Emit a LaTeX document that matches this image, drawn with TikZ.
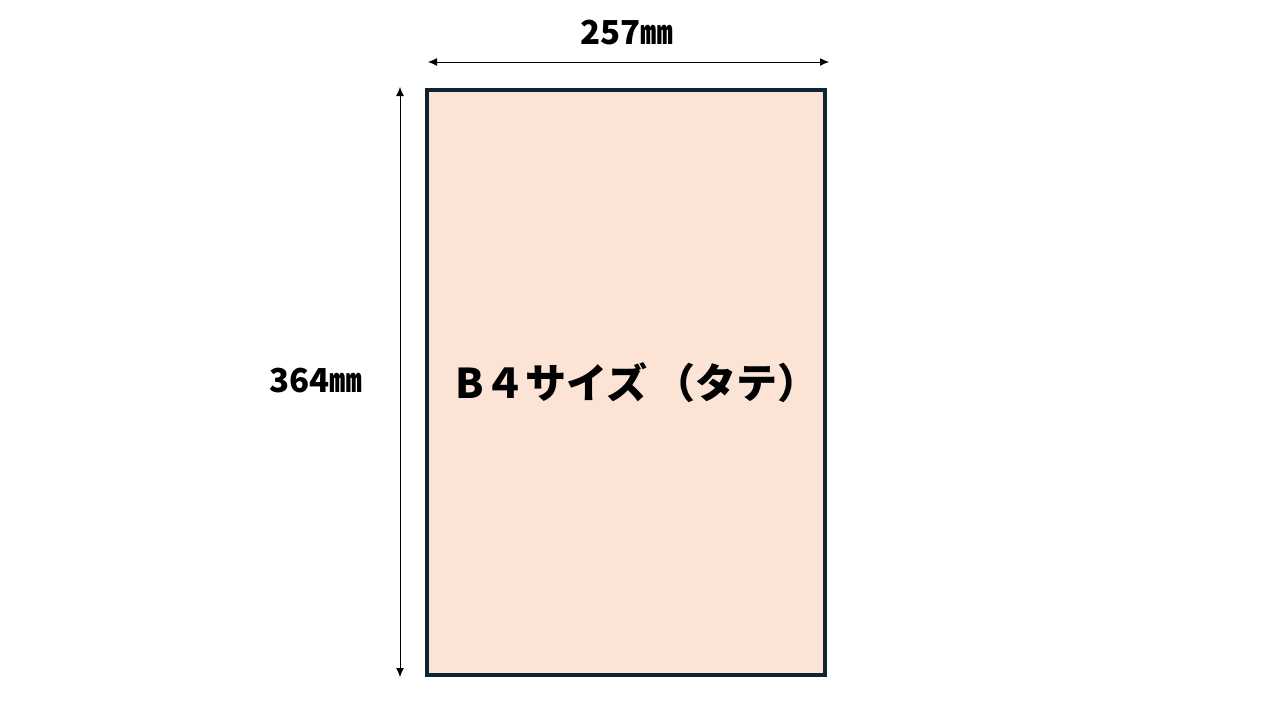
\documentclass[tikz,border=0pt]{standalone}
\usepackage{fontspec}
\usepackage{xcolor}
\usepackage{tikz}
\usetikzlibrary{arrows.meta}
\newfontfamily\jpfont{Noto Sans CJK JP}
\definecolor{sheetfill}{HTML}{FBE3D6}
\definecolor{sheetedge}{HTML}{0E2433}
\tikzset{
  sheet/.style={draw=sheetedge, fill=sheetfill, line width=4pt, minimum width=398pt, minimum height=585pt, inner sep=0pt},
  dimline/.style={line width=1pt, {Latex[length=9pt,width=8pt]}-{Latex[length=9pt,width=8pt]}},
  dimlabel/.style={font=\jpfont\bfseries\fontsize{33}{36}\selectfont, inner sep=0pt}
}
\begin{document}
\begin{tikzpicture}[x=1pt,y=-1pt]
	\useasboundingbox (0,0) rectangle (1280,720);
	% the sheet
	\node[sheet] (paper) at (626,382.5){};
	\node[font=\jpfont\bfseries\fontsize{41}{45}\selectfont, inner sep=0pt] (name) at (637,383){B４サイズ\,（タテ）};
	
	% width
	\coordinate (wL) at (428,62);
	\coordinate (wR) at (829,62);
	\draw[dimline] (wL)--(wR);
	\node[dimlabel] (wlab) at (627,33){257㎜};
	
	% height
	\coordinate (hT) at (400,87);
	\coordinate (hB) at (400,677);
	\draw[dimline] (hT)--(hB);
	\node[dimlabel] (hlab) at (316,381){364㎜};
\end{tikzpicture}
\end{document}
